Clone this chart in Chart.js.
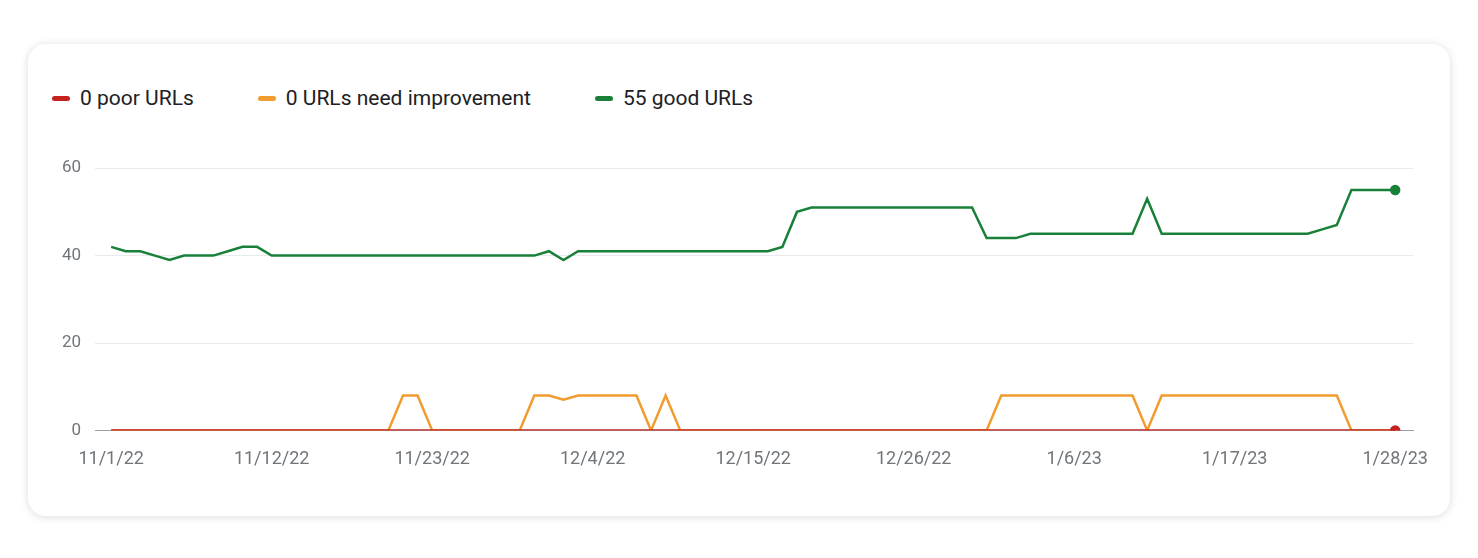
<!DOCTYPE html>
<html><head><meta charset="utf-8">
<script src="https://cdn.jsdelivr.net/npm/chart.js@4"></script>
<style>
body{margin:0;background:#fff;font-family:Roboto,sans-serif;width:1478px;height:558px;overflow:hidden}
.card{position:absolute;left:28px;top:44px;width:1422px;height:472px;background:#fff;border-radius:18px;box-shadow:0 1px 8px rgba(0,0,0,.14)}
.legend{position:absolute;left:24px;top:42px;font-size:21px;color:#202124;display:flex}
.legend span{display:flex;align-items:center;margin-right:64px}
.legend i{display:inline-block;width:18px;height:5px;border-radius:3px;margin-right:10px}
.wrap{position:absolute;left:20px;top:100px;width:1390px;height:336px}
</style></head><body>
<div class="card">
<div class="legend">
<span><i style="background:#c5221f"></i>0 poor URLs</span>
<span><i style="background:#f29b2f"></i>0 URLs need improvement</span>
<span><i style="background:#188038"></i>55 good URLs</span>
</div>
<div class="wrap"><canvas id="c"></canvas></div>
</div>
<script>
const startDate = new Date(2022, 10, 1);
const dayCount = 89;
const dates = [];
for (let i = 0; i < dayCount; i++) {
  const d = new Date(startDate); d.setDate(d.getDate() + i);
  dates.push((d.getMonth() + 1) + '/' + d.getDate() + '/' + String(d.getFullYear()).slice(2));
}
const good = [42,41,41,40,39,40,40,40,41,42,42,40,40,40,40,40,40,40,40,40,40,40,40,40,40,40,40,40,40,40,41,39,41,41,41,41,41,41,41,41,41,41,41,41,41,41,42,50,51,51,51,51,51,51,51,51,51,51,51,51,44,44,44,45,45,45,45,45,45,45,45,53,45,45,45,45,45,45,45,45,45,45,45,46,47,55,55,55,55];
const improve = [0,0,0,0,0,0,0,0,0,0,0,0,0,0,0,0,0,0,0,0,8,8,0,0,0,0,0,0,0,8,8,7,8,8,8,8,8,0,8,0,0,0,0,0,0,0,0,0,0,0,0,0,0,0,0,0,0,0,0,0,0,8,8,8,8,8,8,8,8,8,8,0,8,8,8,8,8,8,8,8,8,8,8,8,8,0,0,0,0];
const poor = new Array(dayCount).fill(0);
const tickIdx = [0,11,22,33,44,55,66,77,88];
const yTicks = [0,20,40,60];

const pts = arr => arr.map((v, i) => ({x: i, y: v}));
const lastDot = n => ctx => ctx.dataIndex === n - 1 ? 4 : 0;

new Chart(document.getElementById('c'), {
  type: 'line',
  data: {
    datasets: [
      {label: 'poor', data: pts(poor), borderColor: '#c5221f', backgroundColor: '#c5221f', borderWidth: 2.5, pointRadius: lastDot(dayCount), tension: 0},
      {label: 'improve', data: pts(improve), borderColor: '#f29b2f', backgroundColor: '#f29b2f', borderWidth: 2.5, pointRadius: 0, tension: 0},
      {label: 'good', data: pts(good), borderColor: '#188038', backgroundColor: '#188038', borderWidth: 2.5, pointRadius: lastDot(dayCount), tension: 0}
    ]
  },
  options: {
    responsive: true, maintainAspectRatio: false, animation: false,
    plugins: {legend: {display: false}, tooltip: {enabled: false}},
    layout: {padding: {top: 20}},
    scales: {
      x: {
        type: 'linear', min: -1.1, max: 89.23,
        afterBuildTicks: ax => { ax.ticks = tickIdx.map(v => ({value: v})); },
        ticks: {callback: v => dates[v], color: '#70757a', font: {family: 'Roboto', size: 18}, maxRotation: 0, padding: 10},
        grid: {display: false},
        border: {color: '#9aa0a6'}
      },
      y: {
        min: 0, max: 60,
        afterBuildTicks: ax => { ax.ticks = yTicks.map(v => ({value: v})); },
        ticks: {color: '#70757a', font: {family: 'Roboto', size: 17}, padding: 14},
        grid: {color: '#e8eaed', drawTicks: false},
        border: {display: false}
      }
    }
  }
});
</script>
</body></html>
